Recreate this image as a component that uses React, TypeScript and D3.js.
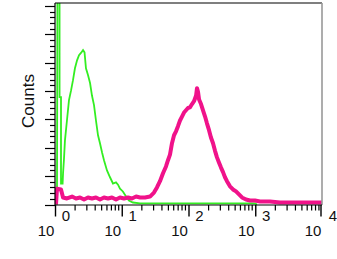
import React from "react";
import * as d3 from "d3";

// channel (log scale) values and counts for each histogram
const greenX = [1.07, 1.09, 1.17, 1.17, 1.23, 1.23, 1.3, 1.32, 1.36, 1.41, 1.51, 1.62, 1.74, 1.86, 1.99, 2.14, 2.29, 2.45, 2.63, 2.77, 2.91, 3.12, 3.35, 3.58, 3.84, 4.11, 4.41, 4.72, 5.06, 5.42, 6.01, 6.67, 7.39, 8.2, 8.79, 9.41, 10.4, 11.6, 12.8, 14.7, 18.8, 149, 991, 1062];
const greenY = [0, 420, 420, 189, 189, 37, 37, 55, 78, 113, 148, 184, 201, 219, 240, 254, 263, 267, 272, 268, 240, 228, 214, 192, 175, 148, 122, 108, 92, 78, 60, 48, 37, 39, 35, 28, 23, 14, 7, 3.5, 2, 2, 2, 0];

const pinkX = [1.035, 1.07, 1.23, 1.32, 1.51, 1.8, 2.06, 2.37, 2.72, 3.12, 3.58, 4.11, 4.72, 5.42, 6.22, 7.14, 8.2, 9.41, 10.8, 12.4, 14.2, 16.4, 18.8, 22.3, 26.5, 30.4, 33.7, 37.4, 41.5, 46.0, 49.3, 52.8, 56.6, 60.7, 65.0, 69.6, 74.6, 79.9, 85.6, 91.7, 98.3, 105, 113, 121, 130, 134, 139, 144, 154, 165, 177, 189, 203, 217, 233, 249, 267, 286, 307, 329, 352, 377, 418, 464, 515, 571, 633, 727, 834, 991, 1178, 1663, 2349, 3316, 4682, 6610, 10000];
const pinkY = [0, 28, 26.5, 12.4, 10.6, 14, 10.6, 12.4, 8.8, 12.4, 10.6, 12.4, 8.8, 12.4, 10.6, 12.4, 8.8, 12.4, 10.6, 12.4, 10.6, 14, 12.4, 12.4, 14, 21, 30, 41, 55, 67, 78, 88, 108, 122, 129, 138, 148, 155, 162, 166, 170, 171, 177, 182, 192, 205, 198, 185, 177, 166, 155, 143, 131, 118, 108, 95, 83, 74, 65, 57, 48, 41, 32, 26.5, 23, 17.7, 12.4, 8.8, 7, 7, 5.3, 5.3, 3.5, 3.5, 3.5, 3.5, 3.5];

const xDecades = [0, 1, 2, 3, 4];
const yMax = 355;
const yLabel = "Counts";

export default function App() {
  const W = 337, H = 259;
  const left = 55, right = 322, top = 3, bottom = 204.5;
  const x = d3.scaleLog().domain([1, 10000]).range([left, right]);
  const y = d3.scaleLinear().domain([0, yMax]).range([bottom, top]);

  const line = d3.line<[number, number]>().x(d => x(d[0])).y(d => y(d[1]));
  const green = line(greenX.map((v, i) => [v, greenY[i]]) as [number, number][]) || "";
  const pink = line(pinkX.map((v, i) => [v, pinkY[i]]) as [number, number][]) || "";

  const yTicks = d3.range(0, 351, 10);
  const xMinor: number[] = [];
  for (let d = 0; d < 4; d++) for (let k = 2; k <= 9; k++) xMinor.push(k * Math.pow(10, d));

  const font = "'Liberation Sans', Arial, sans-serif";
  return (
    <svg width={W} height={H} style={{ position: "absolute", left: 0, top: 0, background: "#fff" }}>
      <defs>
        <clipPath id="plot">
          <rect x={left} y={top} width={right - left} height={bottom - top + 0.5} />
        </clipPath>
      </defs>
      <g clipPath="url(#plot)">
        <path d={green} fill="none" stroke="#33ee22" strokeWidth={1.8} strokeLinejoin="miter" />
        <path d={pink} fill="none" stroke="#f0128a" strokeWidth={4} strokeLinejoin="round" />
      </g>
      {/* frame */}
      <line x1={left} x2={right} y1={top} y2={top} stroke="#000" strokeWidth={1.2} />
      <line x1={right} x2={right} y1={top} y2={bottom + 0.5} stroke="#999" strokeWidth={1.6} />
      <line x1={left} x2={left} y1={top} y2={bottom + 1} stroke="#000" strokeWidth={1.2} />
      <line x1={left} x2={right} y1={bottom + 0.5} y2={bottom + 0.5} stroke="#000" strokeWidth={1.2} />
      {/* y ticks */}
      {yTicks.map(t => (
        <line key={"y" + t} x1={left - (t % 50 === 0 ? 10 : 5)} x2={left} y1={Math.round(y(t)) + 0.5} y2={Math.round(y(t)) + 0.5} stroke="#000" strokeWidth={1.2} />
      ))}
      {/* x ticks */}
      {xMinor.map(t => (
        <line key={"xm" + t} x1={x(t)} x2={x(t)} y1={bottom + 0.5} y2={bottom + 6} stroke="#000" strokeWidth={1.2} />
      ))}
      {xDecades.map(d => (
        <line key={"xM" + d} x1={x(Math.pow(10, d)) + (d === 4 ? -1 : 0.5)} x2={x(Math.pow(10, d)) + (d === 4 ? -1 : 0.5)} y1={bottom + 0.5} y2={bottom + 12} stroke="#000" strokeWidth={1.4} />
      ))}
      {xDecades.map(d => (
        <g key={"xl" + d} fontFamily={font} fontSize={15} fill="#111">
          <text x={x(Math.pow(10, d)) - 9} y={236} textAnchor="middle">10</text>
          <text x={x(Math.pow(10, d)) + 11} y={221} textAnchor="middle">{d}</text>
        </g>
      ))}
      <text transform="translate(34,101) rotate(-90)" textAnchor="middle" fontFamily={font} fontSize={17} fill="#111">{yLabel}</text>
    </svg>
  );
}
